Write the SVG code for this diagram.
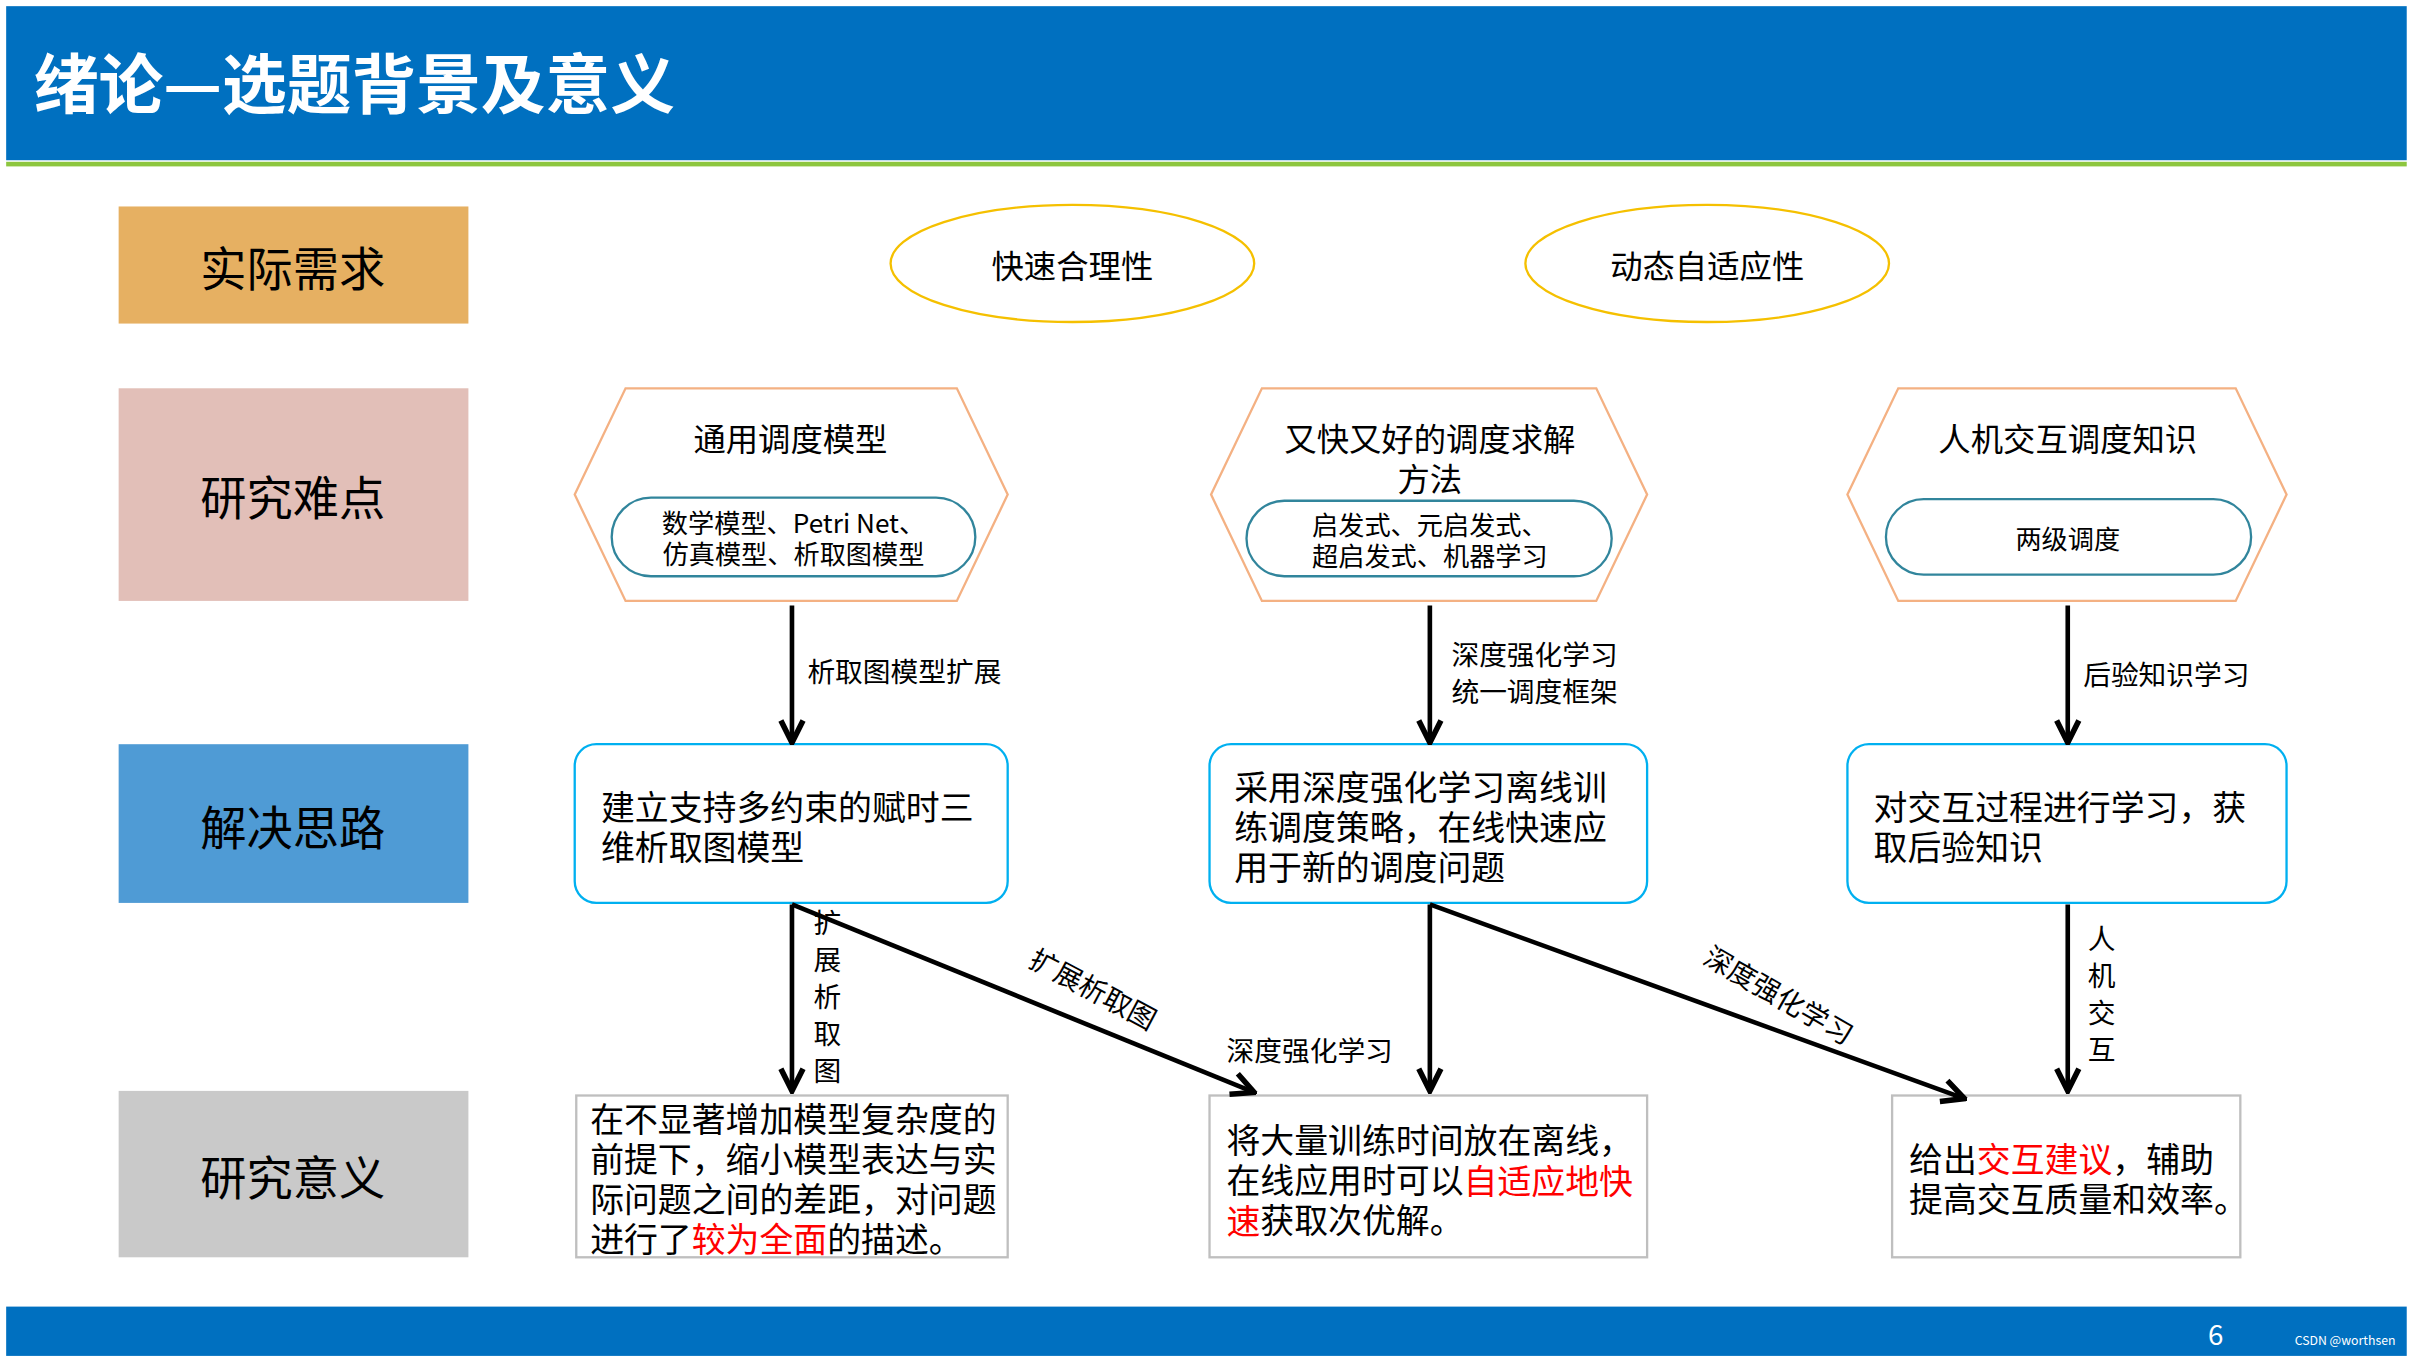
<svg xmlns="http://www.w3.org/2000/svg" width="2416" height="1356" viewBox="0 0 2416 1356">
<defs>
<style>
text{font-family:"Noto Sans CJK SC","Liberation Sans",sans-serif;fill:#000}
.side{font-size:30px;text-anchor:middle;dominant-baseline:central}
.ell{fill:#fff;stroke:#F5C000;stroke-width:1.5}
.hex{fill:#fff;stroke:#F4B183;stroke-width:1.5}
.pill{fill:#fff;stroke:#31859C;stroke-width:1.5}
.sol{fill:#fff;stroke:#00B0F0;stroke-width:1.5}
.sig{fill:#fff;stroke:#BFBFBF;stroke-width:1.5}
.t22{font-size:22px;dominant-baseline:central}
.t21{font-size:21px;text-anchor:middle;dominant-baseline:central}
.t17{font-size:17px;text-anchor:middle;dominant-baseline:central}
.lb{font-size:18px;dominant-baseline:central}
.red{fill:#FF0000}
.arr{stroke:#000;stroke-width:3;fill:none;marker-end:url(#ah)}
</style>
<marker id="ah" viewBox="0 0 10 10" refX="9" refY="5" markerWidth="6" markerHeight="6" orient="auto"><path d="M1,1 L9,5 L1,9" fill="none" stroke="#000" stroke-width="2"/></marker>
</defs>
<rect width="2416" height="1356" fill="#fff"/>
<g transform="scale(1.5408)">
<g id="header">
<rect x="4" y="4" width="1558" height="100" fill="#0070C0"/>
<rect x="4" y="105" width="1558" height="3" fill="#8DC63F"/>
<text x="22" y="52" style="font-size:42px;font-weight:bold;fill:#fff;dominant-baseline:central">绪论—选题背景及意义</text>
</g>
<g id="footer">
<rect x="4" y="848" width="1558" height="32" fill="#0070C0"/>
<text x="1438" y="865" style="font-size:18px;fill:#fff;text-anchor:middle;dominant-baseline:central">6</text>
<text x="1522" y="870" style="font-size:8px;fill:#fff;text-anchor:middle;dominant-baseline:central">CSDN @worthsen</text>
</g>
<g id="side-1"><rect x="77" y="134" width="227" height="76" fill="#E6B062"/><text class="side" x="190" y="172">实际需求</text></g>
<g id="side-2"><rect x="77" y="252" width="227" height="138" fill="#E2BFB8"/><text class="side" x="190" y="321">研究难点</text></g>
<g id="side-3"><rect x="77" y="483" width="227" height="103" fill="#4F9BD5"/><text class="side" x="190" y="535">解决思路</text></g>
<g id="side-4"><rect x="77" y="708" width="227" height="108" fill="#C9C9C9"/><text class="side" x="190" y="762">研究意义</text></g>
<g id="need-1"><ellipse class="ell" cx="696" cy="171" rx="118" ry="38"/><text class="t21" x="696" y="171">快速合理性</text></g>
<g id="need-2"><ellipse class="ell" cx="1108" cy="171" rx="118" ry="38"/><text class="t21" x="1108" y="171">动态自适应性</text></g>
<g id="diff-1"><polygon class="hex" points="406,252 621,252 654,321 621,390 406,390 373,321"/>
<text class="t21" x="513" y="283">通用调度模型</text>
<rect class="pill" x="397" y="323" width="236" height="51" rx="25.5"/>
<text class="t17" x="515" y="339">数学模型、Petri Net、</text><text class="t17" x="515" y="359">仿真模型、析取图模型</text></g>
<g id="diff-2"><polygon class="hex" points="819,252 1036,252 1069,321 1036,390 819,390 786,321"/>
<text class="t21" x="928" y="283">又快又好的调度求解</text><text class="t21" x="928" y="309">方法</text>
<rect class="pill" x="809" y="325" width="237" height="49" rx="24.5"/>
<text class="t17" x="928" y="340">启发式、元启发式、</text><text class="t17" x="928" y="360">超启发式、机器学习</text></g>
<g id="diff-3"><polygon class="hex" points="1232,252 1451,252 1484,321 1451,390 1232,390 1199,321"/>
<text class="t21" x="1342" y="283">人机交互调度知识</text>
<rect class="pill" x="1224" y="324" width="237" height="49" rx="24.5"/>
<text class="t17" x="1342" y="349">两级调度</text></g>
<g id="sol-1"><rect class="sol" x="373" y="483" width="281" height="103" rx="14"/>
<text class="t22" x="390" y="523">建立支持多约束的赋时三</text><text class="t22" x="390" y="549">维析取图模型</text></g>
<g id="sol-2"><rect class="sol" x="785" y="483" width="284" height="103" rx="14"/>
<text class="t22" x="801" y="510">采用深度强化学习离线训</text><text class="t22" x="801" y="536">练调度策略，在线快速应</text><text class="t22" x="801" y="562">用于新的调度问题</text></g>
<g id="sol-3"><rect class="sol" x="1199" y="483" width="285" height="103" rx="14"/>
<text class="t22" x="1216" y="523">对交互过程进行学习，获</text><text class="t22" x="1216" y="549">取后验知识</text></g>
<g id="sig-1"><rect class="sig" x="374" y="711" width="280" height="105"/>
<text class="t22" x="383" y="725">在不显著增加模型复杂度的</text><text class="t22" x="383" y="751">前提下，缩小模型表达与实</text><text class="t22" x="383" y="777">际问题之间的差距，对问题</text><text class="t22" x="383" y="803">进行了<tspan class="red">较为全面</tspan>的描述。</text></g>
<g id="sig-2"><rect class="sig" x="785" y="711" width="284" height="105"/>
<text class="t22" x="796" y="739">将大量训练时间放在离线，</text><text class="t22" x="796" y="765">在线应用时可以<tspan class="red">自适应地快</tspan></text><text class="t22" x="796" y="791"><tspan class="red">速</tspan>获取次优解。</text></g>
<g id="sig-3"><rect class="sig" x="1228" y="711" width="226" height="105"/>
<text class="t22" x="1239" y="751">给出<tspan class="red">交互建议</tspan>，辅助</text><text class="t22" x="1239" y="777">提高交互质量和效率。</text></g>
<g id="connectors">
<line class="arr" x1="514" y1="393" x2="514" y2="482"/>
<line class="arr" x1="928" y1="393" x2="928" y2="482"/>
<line class="arr" x1="1342" y1="393" x2="1342" y2="482"/>
<line class="arr" x1="514" y1="587" x2="514" y2="708"/>
<line class="arr" x1="514" y1="587" x2="814" y2="709"/>
<line class="arr" x1="928" y1="587" x2="928" y2="708"/>
<line class="arr" x1="928" y1="587" x2="1275" y2="713"/>
<line class="arr" x1="1342" y1="587" x2="1342" y2="708"/>
<text class="lb" x="524" y="435">析取图模型扩展</text>
<text class="lb" x="942" y="424">深度强化学习</text><text class="lb" x="942" y="448">统一调度框架</text>
<text class="lb" x="1352" y="437">后验知识学习</text>
<g class="lb" style="text-anchor:middle"><text x="537" y="598">扩</text><text x="537" y="622">展</text><text x="537" y="646">析</text><text x="537" y="670">取</text><text x="537" y="694">图</text></g>
<g class="lb" style="text-anchor:middle"><text x="1364" y="608">人</text><text x="1364" y="632">机</text><text x="1364" y="656">交</text><text x="1364" y="680">互</text></g>
<text class="lb" x="710" y="641" text-anchor="middle" transform="rotate(28 710 641)">扩展析取图</text>
<text class="lb" x="850" y="681" text-anchor="middle">深度强化学习</text>
<text class="lb" x="1155" y="645" text-anchor="middle" transform="rotate(30 1155 645)">深度强化学习</text>
</g>
</g>
</svg>
